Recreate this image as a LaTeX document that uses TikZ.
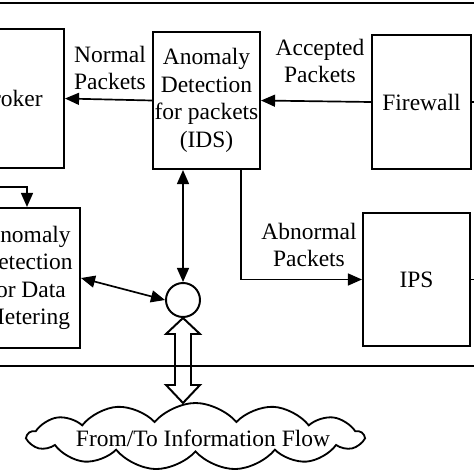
\documentclass[tikz,border=0pt]{standalone}
\usepackage{fontspec}
\setmainfont{Liberation Serif}
\usetikzlibrary{arrows.meta,shapes.symbols}

\begin{document}
\begin{tikzpicture}[x=0.025cm,y=-0.025cm,
  every node/.style={font=\fontsize{16.7}{19.6}\selectfont},
  box/.style={draw,line width=1.4pt,align=center,inner sep=0pt},
  lbl/.style={align=center,inner sep=0pt},
  arr/.style={line width=1.2pt,-{Triangle[length=10pt,width=8.5pt]}},
  arrr/.style={line width=1.2pt,{Triangle[length=10pt,width=8.5pt]}-{Triangle[length=10pt,width=8.5pt]}}]
\useasboundingbox (0,0) rectangle (474,474);
\clip (0,0) rectangle (474,474);

% frame round the system
\draw[line width=1.3pt] (-60,3) rectangle (540,366);

\node[box,minimum width=2.7cm,minimum height=3.475cm] (broker) at (10,98.5) {Broker};
\node[box,minimum width=2.675cm,minimum height=3.425cm] (ids) at (206.5,100.5) {Anomaly\\Detection\\for packets\\(IDS)};
\node[box,minimum width=2.475cm,minimum height=3.35cm] (fw) at (421.5,102) {Firewall};
\node[box,minimum width=2.675cm,minimum height=3.325cm] (ips) at (416.5,279.5) {IPS};
\node[box,minimum width=2.65cm,minimum height=3.5cm] (meter) at (27,278) {Anomaly\\Detection\\for Data\\Metering};
\node[draw,circle,line width=1.4pt,minimum size=0.85cm,inner sep=0pt] (hub) at (183,300) {};
\node[draw,cloud,cloud puffs=13,cloud puff arc=100,cloud ignores aspect,line width=1.3pt,
  minimum width=8.375cm,minimum height=1.675cm,inner sep=0pt] (flow) at (195.5,436.5) {};
\node[lbl] (flowtxt) at (203,438) {From/To Information Flow};

\coordinate (fwout) at (490,102);
\coordinate (ipsout) at (490,279.5);
\coordinate (mfeed) at (-20,187);

\draw[arr] (fw.west) -- (ids.east);
\draw[arr] (ids.west) -- (broker.east);
\draw[arr] ([xshift=-20*0.025cm]ids.south east) |- (ips.west);
\draw[line width=0.8pt] (fw.east) -- (fwout);
\draw[line width=0.8pt] (ips.east) -- (ipsout);
\draw[arr] (mfeed) -| (meter.north);
\draw[arrr] (hub.north |- ids.south) -- (hub.north);
\draw[arrr] (meter.east) -- (hub.west);

% hollow two-way arrow
\draw[line width=1.4pt,line join=miter] (hub.south) -- ++(17,16) -- ++(-9,0) -- ++(0,51) -- ++(9,0)
  -- ++(-17,18) -- ++(-17,-18) -- ++(9,0) -- ++(0,-51) -- ++(-9,0) -- cycle;

\node[lbl] (normal) at (110,68) {Normal\\Packets};
\node[lbl] (accepted) at (320,61) {Accepted\\Packets};
\node[lbl] (abnormal) at (309,245) {Abnormal\\Packets};

\end{tikzpicture}
\end{document}
